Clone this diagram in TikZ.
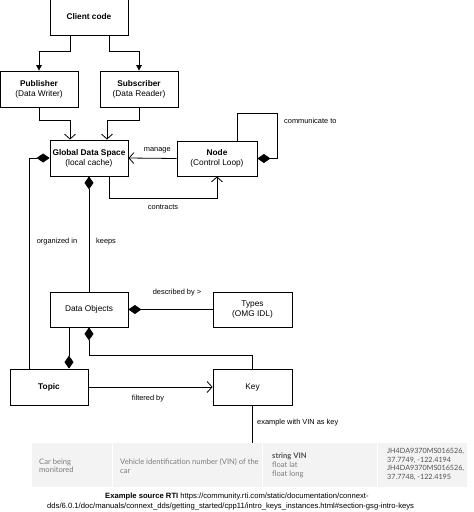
\documentclass[tikz,border=0pt]{standalone}
\usepackage{fontspec}
\setmainfont{Liberation Sans}
\newfontfamily\latofont{Lato}
\usetikzlibrary{arrows.meta}
\definecolor{tblbg}{HTML}{F3F3F3}
\definecolor{tbltxt}{HTML}{7C7C7C}
\definecolor{tbldark}{HTML}{505050}
\tikzset{
  box/.style={draw, line width=0.8pt, minimum width=78pt, minimum height=36pt, align=center, inner sep=1pt, font=\fontsize{8.3}{10}\selectfont},
  conn/.style={line width=0.8pt},
  tri/.style={conn, -{Triangle[length=5.5pt,width=5.5pt]}},
  openarr/.style={conn, -{Straight Barb[length=5pt,width=11pt]}},
  dstart/.style={conn, {Diamond[length=13pt,width=9pt]}-},
  dend/.style={conn, -{Diamond[length=13pt,width=9pt]}},
  lbl/.style={font=\fontsize{7.4}{8.5}\selectfont, inner sep=0pt},
  cell/.style={font=\latofont\fontsize{7.6}{8.6}\selectfont, color=tbltxt, align=left, anchor=north west, inner sep=0pt},
}
\begin{document}
\begin{tikzpicture}[x=1pt,y=-1pt]
\useasboundingbox (0,0) rectangle (474,512);
% boxes
\node[box] (client) at (89,16.5) [minimum height=38pt] {\textbf{Client code}};
\node[box] (pub) at (39,89) {\textbf{Publisher}\\(Data Writer)};
\node[box] (sub) at (139,89) {\textbf{Subscriber}\\(Data Reader)};
\node[box] (gds) at (89,158) {\textbf{Global Data Space}\\(local cache)};
\node[box, minimum width=80pt, minimum height=35pt] (node) at (217,158.5) {\textbf{Node}\\(Control Loop)};
\node[box, minimum height=35pt] (dobj) at (89,309.5) {Data Objects};
\node[box, minimum width=79pt, minimum height=35pt] (types) at (252.5,309.5) {Types\\(OMG IDL)};
\node[box] (topic) at (49,387) {\textbf{Topic}};
\node[box, minimum width=79pt] (key) at (252.5,387) {Key};
% connectors
\draw[tri] ([xshift=-19pt]client.south) -- ++(0,15) -| (pub.north);
\draw[tri] ([xshift=20pt]client.south) -- ++(0,15) -| (sub.north);
\draw[openarr] (pub.south) -- ++(0,13) -| ([xshift=-19pt]gds.north);
\draw[openarr] (sub.south) -- ++(0,13) -| ([xshift=18pt]gds.north);
\draw[openarr] (node.west) -- (gds.east) node[lbl, pos=0.4, above=5pt] {manage};
\draw[openarr] ([xshift=20pt]gds.south) -- ++(0,22) coordinate (c1) -| (node.south);
\node[lbl] (contracts) at (163,207) {contracts};
\draw[dend] ([xshift=20pt]node.north) -- ++(0,-27) -- ++(40,0) |- (node.east);
\node[lbl, anchor=west] (comm) at (284,121) {communicate to};
\draw[dstart] (gds.west) -| ([xshift=-20pt]topic.north);
\node[lbl] (org) at (57,242) {organized in};
\draw[dstart] (gds.south) -- (dobj.north);
\node[lbl, anchor=west] (keeps) at (96,242) {keeps};
\draw[dstart] (dobj.east) -- (types.west);
\node[lbl] (descr) at (177,292.5) {described by >};
\draw[dend] ([xshift=-20pt]dobj.south) -- ([xshift=20pt]topic.north);
\draw[dstart] (dobj.south) -- ++(0,28) -| (key.north);
\draw[openarr] (topic.east) -- (key.west);
\node[lbl] (filt) at (148,399) {filtered by};
% table
\fill[tblbg] (32,443) rectangle (467,487);
\draw[white, line width=0.8pt] (112,443) -- (112,487) (262,443) -- (262,487) (377,443) -- (377,487);
\coordinate (ttop) at (252.5,443);
\draw[conn] (key.south) -- (ttop);
\node[lbl, anchor=west] (ex) at (257,423) {example with VIN as key};
\node[cell] (c1a) at (39,458.5) {Car being\\monitored};
\node[cell] (c2a) at (120,458.5) {Vehicle identification number (VIN) of the\\car};
\node[cell, color=tbldark, font=\latofont\fontsize{7.6}{9}\selectfont] (c3a) at (272,452.5) {\textbf{string VIN}\\\textcolor{tbltxt}{float lat}\\\textcolor{tbltxt}{float long}};
\node[cell, color=tbldark, font=\latofont\fontsize{7.2}{8.4}\selectfont] (c4a) at (387,448.5) {JH4DA9370MS016526,\\37.7749, -122.4194\\JH4DA9370MS016526,\\37.7748, -122.4195};
% caption
\node[font=\fontsize{7.65}{10}\selectfont, anchor=west, inner sep=0pt] (cap1) at (105,497) {\textbf{Example source RTI} https://community.rti.com/static/documentation/connext-};
\node[font=\fontsize{7.65}{10}\selectfont, anchor=west, inner sep=0pt] (cap2) at (47,507) {dds/6.0.1/doc/manuals/connext\_dds/getting\_started/cpp11/intro\_keys\_instances.html\#section-gsg-intro-keys};
\end{tikzpicture}
\end{document}
